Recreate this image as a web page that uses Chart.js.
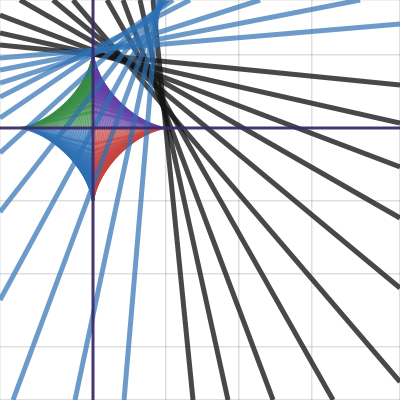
<!DOCTYPE html>
<html><head><meta charset="utf-8">
<script src="https://cdn.jsdelivr.net/npm/chart.js@4"></script>
<style>html,body{margin:0;padding:0;background:#fff}</style>
</head><body>
<canvas id="c" width="400" height="400"></canvas>
<script>
// view window
const xRange = [-1.274, 4.205];
const yRange = [-3.726, 1.753];
// black lines: [x1,y1,x2,y2]
const blackLines = [
  [-1.274,1.137,4.205,0.589],
  [-1.274,1.301,4.205,0.068],
  [-1.274,1.548,4.205,-0.534],
  [-1.0,1.753,4.205,-1.233],
  [-0.548,1.753,4.205,-2.192],
  [-0.274,1.753,4.205,-3.479],
  [0.192,1.753,3.288,-3.726],
  [0.411,1.753,2.466,-3.726],
  [0.644,1.753,1.849,-3.726],
  [0.822,1.753,1.370,-3.726]
];
// long blue lines
const blueLines = [
  [-1.274,0.959,4.205,1.425],
  [-1.274,0.795,3.658,1.753],
  [-1.274,0.616,2.288,1.753],
  [-1.274,0.425,1.329,1.753],
  [-1.274,0.137,1.096,1.753],
  [-1.274,-0.342,1.027,1.753],
  [-1.274,-1.151,0.986,1.753],
  [-1.274,-2.356,0.959,1.753],
  [-1.096,-3.726,0.945,1.753],
  [-0.247,-3.726,0.918,1.753],
  [0.425,-3.726,0.890,1.753]
];
// astroid segments: axis intercepts
const segA = [0.025,0.05,0.075,0.1,0.125,0.15,0.175,0.2,0.225,0.25,0.275,0.3,0.325,0.35,0.375,0.4,0.425,0.45,0.475,0.5,
  0.525,0.55,0.575,0.6,0.625,0.65,0.675,0.7,0.725,0.75,0.775,0.8,0.825,0.85,0.875,0.9,0.925,0.95,0.975];
const segB = [0.9997,0.999,0.997,0.995,0.992,0.989,0.985,0.980,0.974,0.968,0.961,0.954,0.946,0.937,0.927,0.917,0.905,0.893,0.880,0.866,
  0.851,0.835,0.818,0.8,0.781,0.760,0.738,0.714,0.689,0.661,0.632,0.6,0.565,0.527,0.484,0.436,0.380,0.312,0.222];
const quadrants = [
  {sx:1, sy:1, color:'rgba(96,66,166,0.6)'},
  {sx:-1, sy:1, color:'rgba(56,140,70,0.6)'},
  {sx:-1, sy:-1, color:'rgba(45,112,179,0.6)'},
  {sx:1, sy:-1, color:'rgba(199,68,64,0.6)'}
];

const datasets = [];
function seg(p, color, width, order){
  datasets.push({data:[{x:p[0],y:p[1]},{x:p[2],y:p[3]}], borderColor:color, borderWidth:width,
    pointRadius:0, tension:0, fill:false, order:order});
}
// axes
seg([xRange[0],0,xRange[1],0],'rgba(61,43,107,0.95)',3,0);
seg([0,yRange[0],0,yRange[1]],'rgba(61,43,107,0.95)',3,0);
blackLines.forEach(l=>seg(l,'rgba(20,20,20,0.78)',5,3));
blueLines.forEach(l=>seg(l,'rgba(45,112,179,0.7)',5,1));
quadrants.forEach(q=>{
  segA.forEach((a,i)=>seg([q.sx*a,0,0,q.sy*segB[i]],q.color,2.5,2));
});

new Chart(document.getElementById('c'),{
  type:'line',
  data:{datasets},
  options:{
    responsive:false, animation:false,
    layout:{padding:0},
    plugins:{legend:{display:false},tooltip:{enabled:false}},
    scales:{
      x:{type:'linear',min:xRange[0],max:xRange[1],
        ticks:{display:false,stepSize:1},
        grid:{color:'rgba(0,0,0,0.13)',lineWidth:1.5,drawTicks:false},
        border:{display:false}},
      y:{type:'linear',min:yRange[0],max:yRange[1],
        ticks:{display:false,stepSize:1},
        grid:{color:'rgba(0,0,0,0.13)',lineWidth:1.5,drawTicks:false},
        border:{display:false}}
    }
  }
});
</script>
</body></html>
